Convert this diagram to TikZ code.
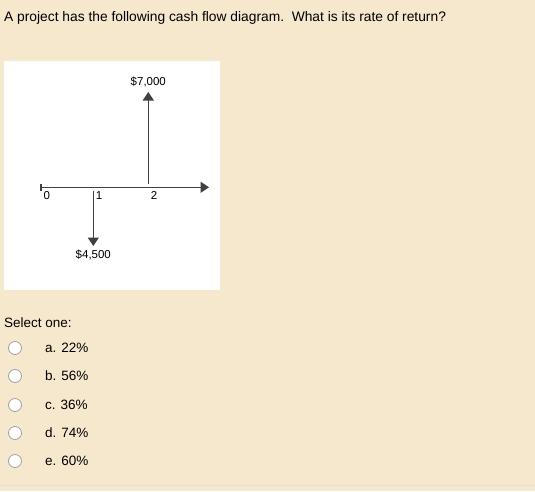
\documentclass[tikz,border=0pt]{standalone}
\usepackage{fontspec}
\setmainfont{Liberation Sans}
\usepackage{xcolor}
\usetikzlibrary{arrows.meta}

\definecolor{pagebg}{HTML}{F5E8CD}
\definecolor{axisgray}{HTML}{404040}
\definecolor{radiogray}{HTML}{A0A0A0}

\tikzset{
  cashline/.style={draw=axisgray, line width=1.1pt},
  cashtip/.style={-{Triangle[length=8.5pt,width=11pt]}},
  ticklabel/.style={inner sep=0pt, font=\fontsize{11.5}{12}\selectfont},
  amount/.style={inner sep=0pt, font=\fontsize{11.5}{12}\selectfont},
  radio/.style={circle, draw=radiogray, fill=white, minimum size=13pt, inner sep=0pt, line width=0.8pt},
  answer/.style={anchor=west, inner sep=0pt, font=\fontsize{13.5}{15}\selectfont}
}

\begin{document}
\begin{tikzpicture}[x=1pt, y=-1pt]
        % Page
        \fill[pagebg] (0,0) rectangle (535,491);
        \useasboundingbox (0,0) rectangle (535,491);
        \draw[black!12] (0,485.5) -- (535,485.5);

        % Question
        \node[anchor=west, inner sep=0pt, font=\fontsize{13.8}{15}\selectfont] (question) at (4,17.5)
          {A project has the following cash flow diagram.\ \ What is its rate of return?};

        % Diagram panel
        \fill[white] (4,61) rectangle (220,290);

        % Time axis
        \coordinate (t0) at (41,187.3);
        \coordinate (t1) at (93.3,187.3);
        \coordinate (t2) at (148.3,187.3);
        \coordinate (tend) at (209,187.3);
        \draw[cashline, cashtip] (t0) -- (tend);
        \draw[cashline] ([yshift=-3.5pt]t0) -- ([yshift=3pt]t0);

        % Cash flows
        \coordinate (out) at (93.3,246);
        \coordinate (in) at (148.3,92);
        \draw[cashline, cashtip] ([yshift=-3.5pt]t1) -- (out);
        \draw[cashline, cashtip] ([yshift=3.5pt]t2) -- (in);

        % Labels
        \node[ticklabel] (lab0) at (46.7,195.5) {0};
        \node[ticklabel] (lab1) at (99,195.5) {1};
        \node[ticklabel] (lab2) at (154,195.5) {2};
        \node[amount] (plus) at (148.3,82) {\$7,000};
        \node[amount] (minus) at (93.3,254.5) {\$4,500};

        % Choices
        \node[anchor=west, inner sep=0pt, font=\fontsize{13.5}{15}\selectfont] (select) at (4,323) {Select one:};
        \node[radio] (ra) at (15,348) {};
        \node[answer] (a) at (45,348) {a. 22\%};
        \node[radio] (rb) at (15,376) {};
        \node[answer] (b) at (45,376) {b. 56\%};
        \node[radio] (rc) at (15,405) {};
        \node[answer] (c) at (45,405) {c. 36\%};
        \node[radio] (rd) at (15,433) {};
        \node[answer] (d) at (45,433) {d. 74\%};
        \node[radio] (re) at (15,461) {};
        \node[answer] (e) at (45,461) {e. 60\%};
    \end{tikzpicture}
\end{document}
